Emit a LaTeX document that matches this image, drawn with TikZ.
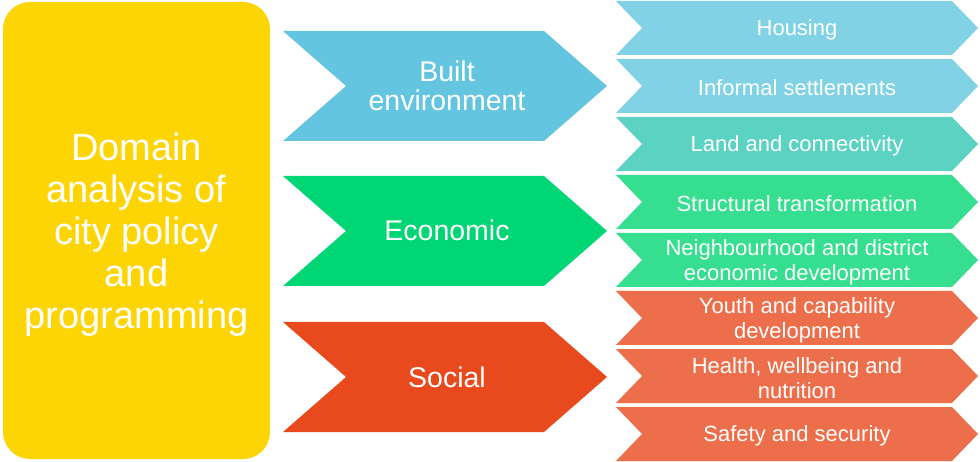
\documentclass[tikz,border=0pt]{standalone}
\usepackage{fontspec}
\setmainfont{Liberation Sans}
\definecolor{cyel}{HTML}{FDD505}
\definecolor{cbuilt}{HTML}{64C5E0}
\definecolor{cecon}{HTML}{00D673}
\definecolor{csoc}{HTML}{E8491D}
\definecolor{chous}{HTML}{80D2E4}
\definecolor{cland}{HTML}{5CD2C2}
\definecolor{cstruct}{HTML}{36DE8F}
\definecolor{csmall}{HTML}{ED6E4B}
\newcommand\mychev[6]{% x1 x2 ytop ybot depth color
  \fill[#6] (#1,#3) -- ({#2-#5},#3) -- (#2,{(#3+#4)/2}) -- ({#2-#5},#4) -- (#1,#4) -- ({#1+#5},{(#3+#4)/2}) -- cycle;}
\begin{document}
\begin{tikzpicture}[x=1pt,y=-1pt,
  bigtxt/.style={text=white,align=center,font=\fontsize{28.5}{29}\selectfont},
  smalltxt/.style={text=white,align=center,font=\fontsize{22}{25}\selectfont,yshift=-2pt},
  domtxt/.style={text=white,align=center,font=\fontsize{38}{42}\selectfont}]
\useasboundingbox (0,0) rectangle (980,462);
% left box
\fill[cyel,rounded corners=27pt] (3,2) rectangle (270,459);
\node[domtxt] (dom) at (136.5,235) {Domain\\analysis of\\city policy\\and\\programming};
% big chevrons
\mychev{283}{607}{31}{141}{63}{cbuilt}
\node[bigtxt] (built) at (447,86) {Built\\environment};
\mychev{283}{607}{176}{286}{63}{cecon}
\node[bigtxt] (econ) at (447,230) {Economic};
\mychev{283}{607}{322}{432}{63}{csoc}
\node[bigtxt] (soc) at (447,377) {Social};
% small chevrons
\mychev{616}{978}{1}{55}{26}{chous}
\node[smalltxt] (s1) at (797,28) {Housing};
\mychev{616}{978}{59}{113}{26}{chous}
\node[smalltxt] (s2) at (797,86) {Informal settlements};
\mychev{616}{978}{117}{171}{26}{cland}
\node[smalltxt] (s3) at (797,144) {Land and connectivity};
\mychev{616}{978}{175}{229}{26}{cstruct}
\node[smalltxt] (s4) at (797,202) {Structural transformation};
\mychev{616}{978}{233}{287}{26}{cstruct}
\node[smalltxt] (s5) at (797,260) {Neighbourhood and district\\economic development};
\mychev{616}{978}{291}{345}{26}{csmall}
\node[smalltxt] (s6) at (797,318) {Youth and capability\\development};
\mychev{616}{978}{349}{403}{26}{csmall}
\node[smalltxt] (s7) at (797,376) {Health, wellbeing and\\nutrition};
\mychev{616}{978}{407}{461}{26}{csmall}
\node[smalltxt] (s8) at (797,434) {Safety and security};
\end{tikzpicture}
\end{document}
